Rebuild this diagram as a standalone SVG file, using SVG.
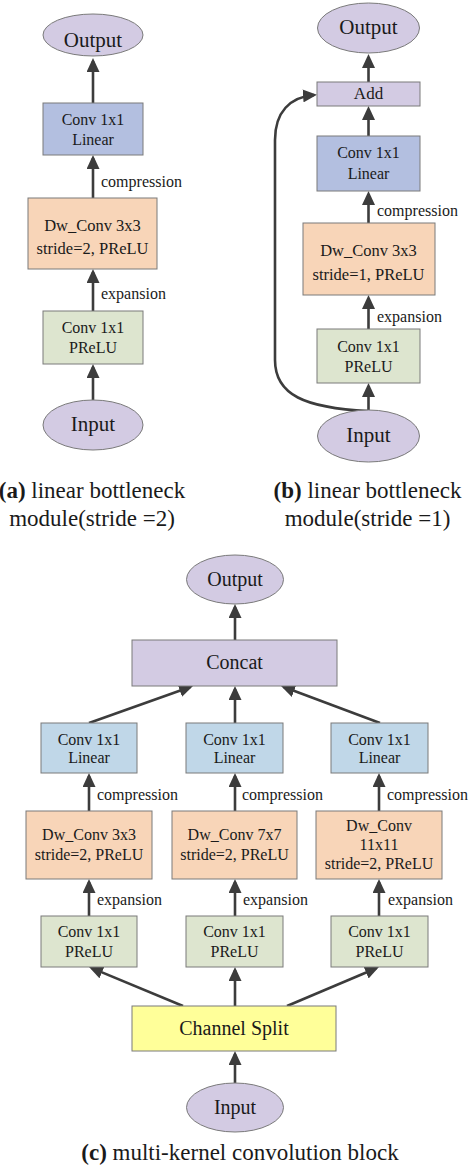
<svg xmlns="http://www.w3.org/2000/svg" width="474" height="1167" viewBox="0 0 474 1167">
<defs>
<style>
.t{font-family:"Liberation Serif","Times New Roman",serif;fill:#1a1a1a;text-anchor:middle}
.n{font-size:16px}
.d{font-size:16.5px}
.e{font-size:21px}
.b{font-size:20px}
.l{font-size:16px;text-anchor:start}
.c{font-size:23px}
.ell{fill:#d3cbe3;stroke:#7a7a7a;stroke-width:1}
.box{stroke:#7a7a7a;stroke-width:1}
.lin{fill:#b3bfe0}
.dw{fill:#f8d5b8}
.pr{fill:#dde5cf}
.pur{fill:#d3cbe3}
.lb{fill:#c0d7e8}
.ys{fill:#ffff99}
.a{stroke:#3c3c3c;stroke-width:2.6;fill:none;marker-end:url(#ah)}
</style>
<marker id="ah" viewBox="0 0 14 13" refX="11" refY="6.5" markerWidth="14" markerHeight="13" markerUnits="userSpaceOnUse" orient="auto">
<path d="M0,0 L14,6.5 L0,13 z" fill="#3c3c3c"/>
</marker>
</defs>
<rect width="474" height="1167" fill="#ffffff"/>

<g id="connectors">
<!-- (a) -->
<line class="a" x1="93" y1="103" x2="93" y2="61"/>
<line class="a" x1="93" y1="198" x2="93" y2="158"/>
<line class="a" x1="93" y1="311" x2="93" y2="272"/>
<line class="a" x1="93" y1="400" x2="93" y2="367"/>
<!-- (b) -->
<line class="a" x1="368.5" y1="82" x2="368.5" y2="57"/>
<line class="a" x1="368.5" y1="136" x2="368.5" y2="109"/>
<line class="a" x1="368.5" y1="223" x2="368.5" y2="194"/>
<line class="a" x1="368.5" y1="329" x2="368.5" y2="298"/>
<line class="a" x1="368.5" y1="410" x2="368.5" y2="386"/>
<path class="a" d="M368,411 C305,408 275,395 275,360 L275,140 C275,112 290,97 314,95"/>
<!-- (c) -->
<line class="a" x1="235" y1="640" x2="235" y2="607"/>
<line class="a" x1="89" y1="723" x2="190.2" y2="687"/>
<line class="a" x1="235" y1="723" x2="235" y2="689"/>
<line class="a" x1="380" y1="723" x2="283.8" y2="687"/>
<line class="a" x1="89" y1="811" x2="89" y2="776"/>
<line class="a" x1="235" y1="811" x2="235" y2="776"/>
<line class="a" x1="379" y1="811" x2="379" y2="776"/>
<line class="a" x1="89" y1="916" x2="89" y2="882"/>
<line class="a" x1="235" y1="916" x2="235" y2="882"/>
<line class="a" x1="379" y1="916" x2="379" y2="882"/>
<line class="a" x1="183" y1="1006" x2="91.8" y2="968.1"/>
<line class="a" x1="235" y1="1006" x2="235" y2="970"/>
<line class="a" x1="287" y1="1006" x2="376.2" y2="968.2"/>
<line class="a" x1="235" y1="1083" x2="235" y2="1054"/>
</g>

<g id="labels">
<text class="t l" x="101" y="187">compression</text>
<text class="t l" x="101" y="299">expansion</text>
<text class="t l" x="377" y="216">compression</text>
<text class="t l" x="377" y="322">expansion</text>
<text class="t l" x="97" y="800">compression</text>
<text class="t l" x="242" y="800">compression</text>
<text class="t l" x="387" y="800">compression</text>
<text class="t l" x="97" y="905">expansion</text>
<text class="t l" x="243" y="905">expansion</text>
<text class="t l" x="388" y="905">expansion</text>
</g>

<!-- panel (a) -->
<g id="a-output"><ellipse class="ell" cx="93" cy="35" rx="50" ry="21"/><text class="t e" x="93" y="47">Output</text></g>
<g id="a-linear"><rect class="box lin" x="43" y="103" width="100" height="52"/><text class="t n" x="93" y="125">Conv 1x1</text><text class="t n" x="93" y="145">Linear</text></g>
<g id="a-dw"><rect class="box dw" x="28" y="198" width="129" height="71"/><text class="t d" x="92.5" y="231">Dw_Conv 3x3</text><text class="t d" x="92.5" y="254">stride=2, PReLU</text></g>
<g id="a-prelu"><rect class="box pr" x="43" y="311" width="100" height="53"/><text class="t n" x="93" y="333">Conv 1x1</text><text class="t n" x="93" y="353">PReLU</text></g>
<g id="a-input"><ellipse class="ell" cx="93" cy="425" rx="50" ry="25"/><text class="t e" x="93" y="431">Input</text></g>
<g id="a-caption"><text class="t c" x="92" y="498"><tspan font-weight="bold">(a)</tspan> linear bottleneck</text><text class="t c" x="92" y="526">module(stride =2)</text></g>

<!-- panel (b) -->
<g id="b-output"><ellipse class="ell" cx="368.5" cy="28" rx="51" ry="25"/><text class="t e" x="368.5" y="34">Output</text></g>
<g id="b-add"><rect class="box pur" x="317" y="82" width="103" height="24"/><text class="t" style="font-size:17px" x="368.5" y="99">Add</text></g>
<g id="b-linear"><rect class="box lin" x="317" y="136" width="103" height="55"/><text class="t n" x="368.5" y="158">Conv 1x1</text><text class="t n" x="368.5" y="179">Linear</text></g>
<g id="b-dw"><rect class="box dw" x="303" y="223" width="132" height="72"/><text class="t d" x="368.5" y="256">Dw_Conv 3x3</text><text class="t d" x="368.5" y="280">stride=1, PReLU</text></g>
<g id="b-prelu"><rect class="box pr" x="317" y="329" width="103" height="54"/><text class="t n" x="368.5" y="352">Conv 1x1</text><text class="t n" x="368.5" y="372">PReLU</text></g>
<g id="b-input"><ellipse class="ell" cx="368.5" cy="436" rx="51" ry="26"/><text class="t e" x="368.5" y="442">Input</text></g>
<g id="b-caption"><text class="t c" x="367.5" y="498"><tspan font-weight="bold">(b)</tspan> linear bottleneck</text><text class="t c" x="367.5" y="526">module(stride =1)</text></g>

<!-- panel (c) -->
<g id="c-output"><ellipse class="ell" cx="235" cy="579.5" rx="48.5" ry="24.5"/><text class="t b" x="235" y="586">Output</text></g>
<g id="c-concat"><rect class="box pur" x="132" y="640" width="205" height="46"/><text class="t b" x="234.5" y="669">Concat</text></g>
<g id="c-linear1"><rect class="box lb" x="41" y="723" width="96" height="50"/><text class="t n" x="89" y="745">Conv 1x1</text><text class="t n" x="89" y="763">Linear</text></g>
<g id="c-linear2"><rect class="box lb" x="186" y="723" width="97" height="50"/><text class="t n" x="234.5" y="745">Conv 1x1</text><text class="t n" x="234.5" y="763">Linear</text></g>
<g id="c-linear3"><rect class="box lb" x="331" y="723" width="97" height="50"/><text class="t n" x="379.5" y="745">Conv 1x1</text><text class="t n" x="379.5" y="763">Linear</text></g>
<g id="c-dw1"><rect class="box dw" x="26" y="811" width="126" height="68"/><text class="t n" x="89" y="840">Dw_Conv 3x3</text><text class="t n" x="89" y="860">stride=2, PReLU</text></g>
<g id="c-dw2"><rect class="box dw" x="172" y="811" width="125" height="68"/><text class="t n" x="234.5" y="840">Dw_Conv 7x7</text><text class="t n" x="234.5" y="860">stride=2, PReLU</text></g>
<g id="c-dw3"><rect class="box dw" x="316" y="811" width="126" height="68"/><text class="t n" x="379" y="831">Dw_Conv</text><text class="t n" x="379" y="850">11x11</text><text class="t n" x="379" y="869">stride=2, PReLU</text></g>
<g id="c-prelu1"><rect class="box pr" x="41" y="916" width="96" height="51"/><text class="t n" x="89" y="937">Conv 1x1</text><text class="t n" x="89" y="957">PReLU</text></g>
<g id="c-prelu2"><rect class="box pr" x="186" y="916" width="97" height="51"/><text class="t n" x="234.5" y="937">Conv 1x1</text><text class="t n" x="234.5" y="957">PReLU</text></g>
<g id="c-prelu3"><rect class="box pr" x="331" y="916" width="97" height="51"/><text class="t n" x="379.5" y="937">Conv 1x1</text><text class="t n" x="379.5" y="957">PReLU</text></g>
<g id="c-split"><rect class="box ys" x="132" y="1006" width="204" height="45"/><text class="t b" x="234" y="1035">Channel Split</text></g>
<g id="c-input"><ellipse class="ell" cx="235" cy="1107.5" rx="48.5" ry="24.5"/><text class="t b" x="235" y="1114">Input</text></g>
<g id="c-caption"><text class="t c" x="240" y="1160"><tspan font-weight="bold">(c)</tspan> multi-kernel convolution block</text></g>
</svg>
